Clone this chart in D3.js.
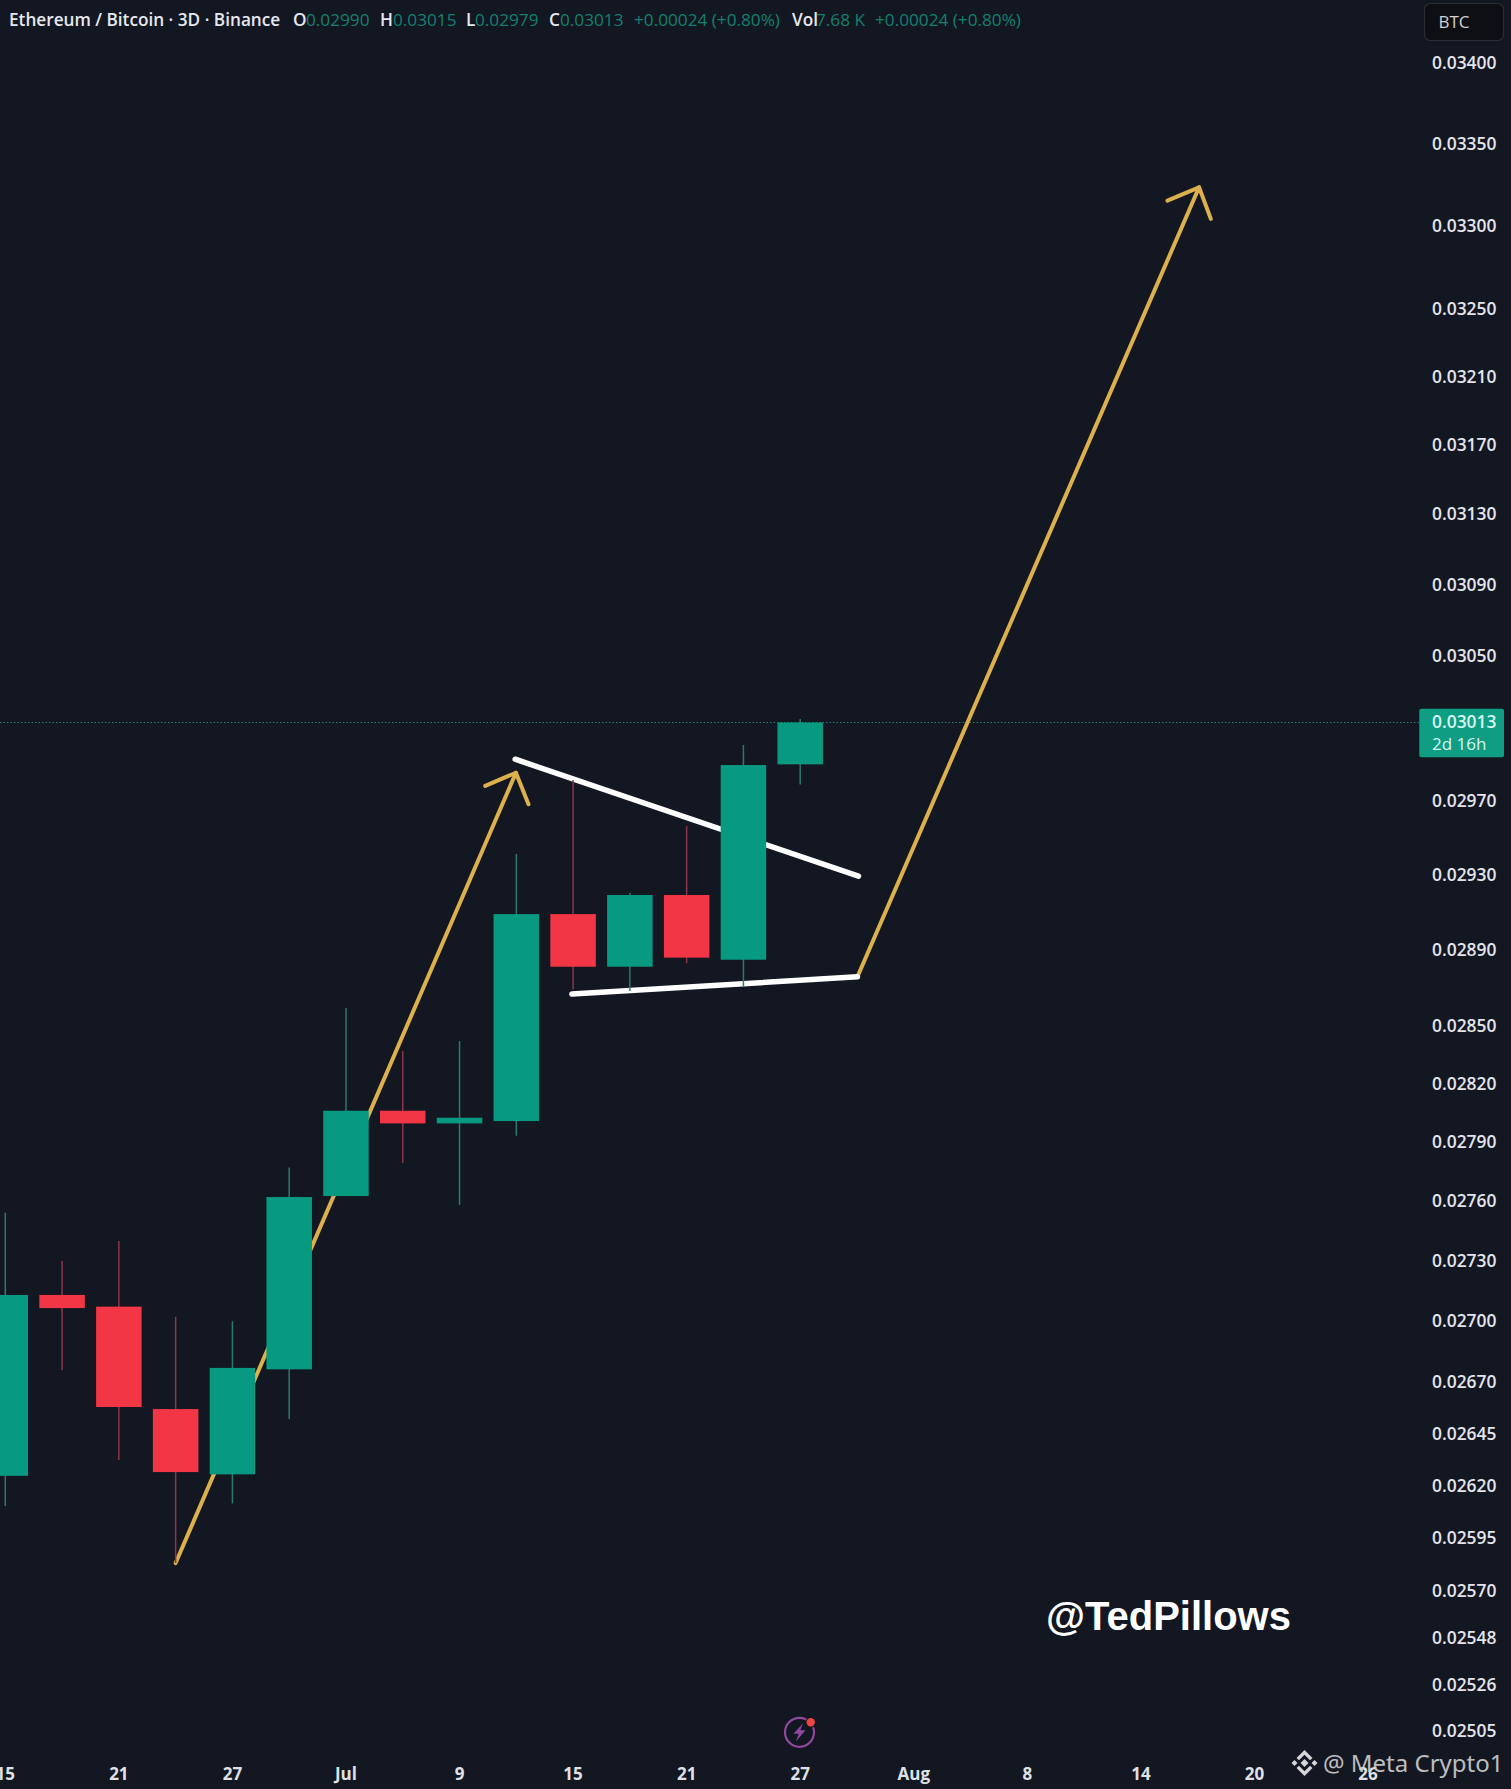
<!DOCTYPE html>
<html>
<head>
<meta charset="utf-8">
<script src="https://cdn.jsdelivr.net/npm/d3@7"></script>
<style>
  html, body { margin: 0; padding: 0; background: #131722; }
  svg { display: block; }
  text { font-family: "Open Sans", "Noto Sans", sans-serif; }
</style>
</head>
<body>
<svg></svg>
<script>
// candles, 3D bars
const opens =  [0.026247, 0.027131, 0.027073, 0.026570, 0.026254, 0.026764, 0.027627, 0.028062, 0.027997, 0.028009, 0.029091, 0.028812, 0.029193, 0.028849, 0.02990];
const highs =  [0.027543, 0.027300, 0.027400, 0.027023, 0.027001, 0.027772, 0.028595, 0.028371, 0.028422, 0.029413, 0.029814, 0.029205, 0.029564, 0.030006, 0.03015];
const lows =   [0.026102, 0.026761, 0.026323, 0.025831, 0.026115, 0.026522, 0.027627, 0.027795, 0.027582, 0.027934, 0.028693, 0.028684, 0.028830, 0.028707, 0.02979];
const closes = [0.027131, 0.027066, 0.026580, 0.026265, 0.026771, 0.027622, 0.028062, 0.027997, 0.028026, 0.029091, 0.028812, 0.029193, 0.028860, 0.029896, 0.03013];

const priceTicks = [0.03400, 0.03350, 0.03300, 0.03250, 0.03210, 0.03170, 0.03130, 0.03090, 0.03050, 0.02970, 0.02930, 0.02890, 0.02850, 0.02820, 0.02790, 0.02760, 0.02730, 0.02700, 0.02670, 0.02645, 0.02620, 0.02595, 0.02570, 0.02548, 0.02526, 0.02505];
const timeLabels = ["15", "21", "27", "Jul", "9", "15", "21", "27", "Aug", "8", "14", "20", "26"];
const lastPrice = 0.03013;

// drawings as [bar index, price]
const goldLegs = [
  [[3.0, 0.025831], [8.993, 0.029854]],
  [[8.452, 0.029782], [8.993, 0.029854], [9.215, 0.029682]],
  [[15.008, 0.028759], [21.025, 0.033233]],
  [[20.467, 0.033152], [21.025, 0.033233], [21.232, 0.033041]]
];
const whiteLines = [
  [[8.98, 0.029928], [15.026, 0.029294]],
  [[9.979, 0.028668], [15.008, 0.028759]]
];

const legend = [
  { t: "Ethereum / Bitcoin · 3D · Binance", x: 9, c: "#e6e8ee", w: 600 },
  { t: "O", x: 293, c: "#e6e8ee", w: 600 }, { t: "0.02990", x: 306, c: "#14806f", w: 500 },
  { t: "H", x: 380, c: "#e6e8ee", w: 600 }, { t: "0.03015", x: 393, c: "#14806f", w: 500 },
  { t: "L", x: 466, c: "#e6e8ee", w: 600 }, { t: "0.02979", x: 475, c: "#14806f", w: 500 },
  { t: "C", x: 549, c: "#e6e8ee", w: 600 }, { t: "0.03013", x: 560, c: "#14806f", w: 500 },
  { t: "+0.00024 (+0.80%)", x: 634, c: "#14806f", w: 500 },
  { t: "Vol", x: 792, c: "#e6e8ee", w: 600 }, { t: "7.68 K", x: 816, c: "#14806f", w: 500 },
  { t: "+0.00024 (+0.80%)", x: 875, c: "#14806f", w: 500 }
];

const width = 1511, height = 1789;
const green = "#089981", red = "#f23645";
const greenWick = "#2b7a70", redWick = "#8c3647";

const svg = d3.select("svg").attr("width", width).attr("height", height);
svg.append("rect").attr("width", width).attr("height", height).attr("fill", "#131722");

const y = d3.scaleLog().domain([0.034, 0.02505]).range([62.7, 1730.7]);
const x = d3.scaleLinear().domain([0, 24]).range([5.3, 1368]);
const bodyW = 45.5;

const line = d3.line().x(d => x(d[0])).y(d => y(d[1]));

// last price line
svg.append("line")
  .attr("x1", 0).attr("x2", 1420)
  .attr("y1", y(lastPrice)).attr("y2", y(lastPrice))
  .attr("stroke", "#2f7f74").attr("stroke-width", 1).attr("stroke-dasharray", "1.5 2");

// drawings go under the candles
svg.selectAll("path.gold")
  .data(goldLegs)
  .enter().append("path")
  .attr("class", "gold")
  .attr("d", line)
  .attr("fill", "none")
  .attr("stroke", "#dcb04c")
  .attr("stroke-width", 4)
  .attr("stroke-linecap", "round")
  .attr("stroke-linejoin", "round");

svg.selectAll("path.white")
  .data(whiteLines)
  .enter().append("path")
  .attr("class", "white")
  .attr("d", line)
  .attr("fill", "none")
  .attr("stroke", "#ffffff")
  .attr("stroke-width", 5.5)
  .attr("stroke-linecap", "round");

const candles = opens.map((o, i) => ({ i: i, o: o, h: highs[i], l: lows[i], c: closes[i] }));

svg.selectAll("line.wick")
  .data(candles)
  .enter().append("line")
  .attr("class", "wick")
  .attr("x1", d => x(d.i)).attr("x2", d => x(d.i))
  .attr("y1", d => y(d.h)).attr("y2", d => y(d.l))
  .attr("stroke", d => d.c >= d.o ? greenWick : redWick)
  .attr("stroke-width", 1.5);

svg.selectAll("rect.body")
  .data(candles)
  .enter().append("rect")
  .attr("class", "body")
  .attr("x", d => x(d.i) - bodyW / 2)
  .attr("width", bodyW)
  .attr("y", d => y(Math.max(d.o, d.c)))
  .attr("height", d => Math.abs(y(d.o) - y(d.c)))
  .attr("fill", d => d.c >= d.o ? green : red);

// price axis
svg.selectAll("text.price")
  .data(priceTicks)
  .enter().append("text")
  .attr("class", "price")
  .attr("x", 1432)
  .attr("y", d => y(d))
  .attr("dy", "0.34em")
  .attr("fill", "#e3e5ea")
  .attr("font-size", 17.4)
  .attr("font-weight", 600)
  .text(d => d.toFixed(5));

// time axis, a label every second bar
svg.selectAll("text.time")
  .data(timeLabels)
  .enter().append("text")
  .attr("class", "time")
  .attr("x", (d, i) => x(i * 2))
  .attr("y", 1774.5)
  .attr("dy", "0.34em")
  .attr("text-anchor", "middle")
  .attr("fill", "#dfe1e6")
  .attr("font-size", 17)
  .attr("font-weight", 700)
  .text(d => d);

// legend row
svg.selectAll("text.legend")
  .data(legend)
  .enter().append("text")
  .attr("class", "legend")
  .attr("x", d => d.x)
  .attr("y", 20.5)
  .attr("dy", "0.34em")
  .attr("fill", d => d.c)
  .attr("font-size", 17.2)
  .attr("font-weight", d => d.w)
  .text(d => d.t);

// BTC button
svg.append("rect")
  .attr("x", 1424.5).attr("y", 3.5).attr("width", 79).attr("height", 37).attr("rx", 6)
  .attr("fill", "#0e0f12").attr("stroke", "#2a2d35").attr("stroke-width", 1.2);
svg.append("text")
  .attr("x", 1438.5).attr("y", 21.5).attr("dy", "0.36em")
  .attr("fill", "#d0d2d6").attr("font-size", 17).text("BTC");

// last price tag
svg.append("rect")
  .attr("x", 1419.3).attr("y", 708.7).attr("width", 84.7).attr("height", 48.6).attr("rx", 2)
  .attr("fill", "#0f9e84");
svg.append("text")
  .attr("x", 1432).attr("y", y(lastPrice)).attr("dy", "0.34em")
  .attr("fill", "#d8f5ee").attr("font-size", 17.4).attr("font-weight", 600)
  .text(lastPrice.toFixed(5));
svg.append("text")
  .attr("x", 1432).attr("y", 744).attr("dy", "0.34em")
  .attr("fill", "#d8f5ee").attr("font-size", 17).attr("font-weight", 500)
  .text("2d 16h");

// lightning icon
const icon = svg.append("g").attr("transform", "translate(799.5,1732.3)");
icon.append("circle").attr("r", 14.5).attr("fill", "none").attr("stroke", "#93489f").attr("stroke-width", 2.2);
icon.append("path").attr("d", "M3.5,-9 L-6,1.5 L-0.8,1.5 L-3.5,9 L6,-2 L0.8,-2 Z").attr("fill", "#93489f");
icon.append("circle").attr("cx", 11.2).attr("cy", -10).attr("r", 5.5).attr("fill", "#131722");
icon.append("circle").attr("cx", 11.2).attr("cy", -10).attr("r", 4.2).attr("fill", "#ef4444");

// watermarks
svg.append("text")
  .attr("x", 1046).attr("y", 1630)
  .attr("fill", "#ffffff")
  .attr("font-size", 40)
  .attr("font-weight", 700)
  .style("font-family", "'Liberation Sans', Arial, sans-serif")
  .text("@TedPillows");

const logo = svg.append("g").attr("transform", "translate(1304.5,1763)").attr("fill", "#d6d6d6");
logo.append("path").attr("d", "M0,-4 L4,0 L0,4 L-4,0 Z");
logo.append("path").attr("d", "M-10,-3 L-7,0 L-10,3 L-13,0 Z");
logo.append("path").attr("d", "M10,-3 L13,0 L10,3 L7,0 Z");
logo.append("path").attr("d", "M0,-13 L8,-5 L5.5,-2.8 L0,-8.2 L-5.5,-2.8 L-8,-5 Z");
logo.append("path").attr("d", "M0,13 L8,5 L5.5,2.8 L0,8.2 L-5.5,2.8 L-8,5 Z");

svg.append("text")
  .attr("x", 1323).attr("y", 1772)
  .attr("fill", "#cfcfcf")
  .attr("font-size", 24)
  .style("font-family", "'Noto Sans', sans-serif")
  .attr("opacity", 0.9)
  .text("@ Meta Crypto1");
</script>
</body>
</html>
